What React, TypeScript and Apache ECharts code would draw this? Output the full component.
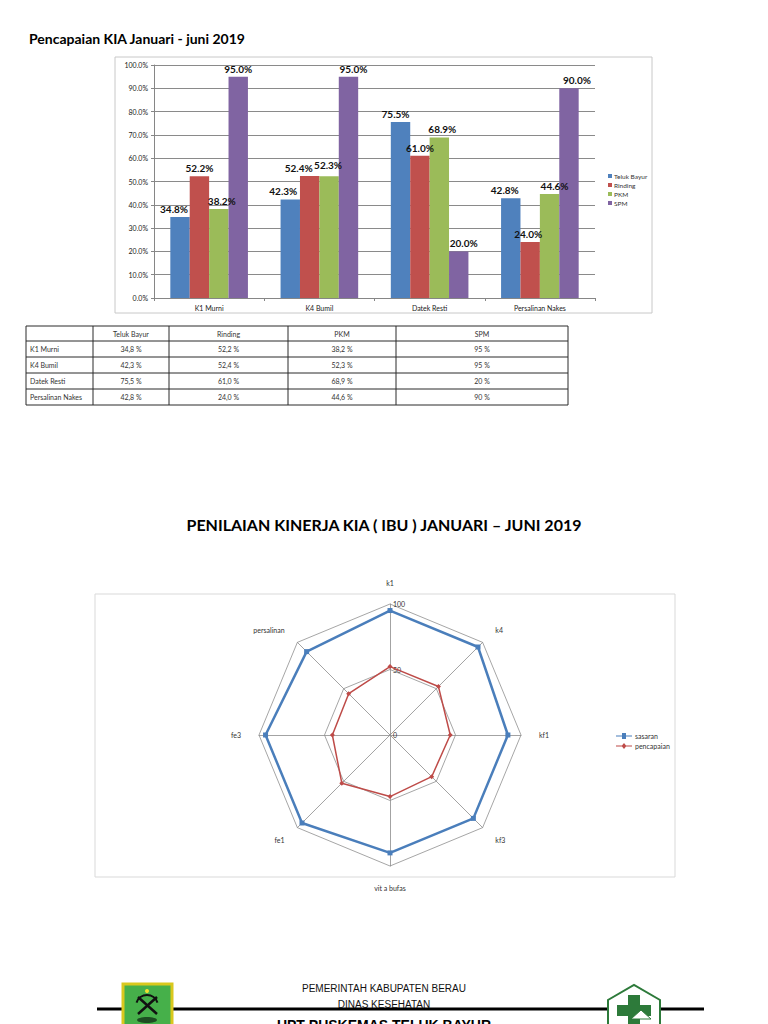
import React, { useEffect, useRef } from "react";
import * as echarts from "echarts";

// ---------- data ----------
const pageTitle = "Pencapaian KIA Januari - juni 2019";
const radarTitle = "PENILAIAN KINERJA KIA ( IBU ) JANUARI \u2013 JUNI 2019";

const categories = ["K1 Murni", "K4 Bumil", "Datek Resti", "Persalinan Nakes"];
const seriesNames = ["Teluk Bayur", "Rinding", "PKM", "SPM"];
const telukBayur = [34.8, 42.3, 75.5, 42.8];
const rinding = [52.2, 52.4, 61.0, 24.0];
const pkm = [38.2, 52.3, 68.9, 44.6];
const spm = [95, 95, 20, 90];

// radar axes in ECharts order (counter-clockwise from the top)
const radarAxes = ["k1", "persalinan", "fe3", "fe1", "vit a bufas", "kf3", "kf1", "k4"];
const radarNames = ["sasaran", "pencapaian"];
const sasaran = [95, 90, 95, 95, 90, 90, 90, 95];
const pencapaian = [52.2, 44.6, 44, 52, 47, 45, 46, 52.3];

const footerLines = ["PEMERINTAH KABUPATEN BERAU", "DINAS KESEHATAN", "UPT PUSKEMAS TELUK BAYUR"];

// ---------- styles ----------
const barColors = ["#4f81bd", "#c0504d", "#9bbb59", "#8064a2"];
const radarColors = ["#4a7ebb", "#be4b48"];
// horizontal nudges of the data labels (as placed in the reference)
const labelOffsets = [
  [[-6, 0], [-7, 0], [-5, 0], [-6, 0]],
  [[0, 0], [-11, 0], [0, 0], [-2, 0]],
  [[3, 0], [-1, -3], [3, 0], [5, 0]],
  [[0, 0], [5, 0], [5, 0], [8, 0]],
];
const F = "Lato, 'Open Sans', sans-serif";
const ARIAL = "'Liberation Sans', Arial, sans-serif";

const colX = [26, 93, 169, 288, 396, 568];
const rowY = [326, 341, 357, 373, 389, 405];

function fmtTable(v: number, col: number) {
  if (col === 3) return `${v} %`;
  return `${v.toFixed(1).replace(".", ",")} %`;
}

function buildTable(): any[] {
  const els: any[] = [];
  const seriesData = [telukBayur, rinding, pkm, spm];
  const lineStyle = { stroke: "#2b2b2b", lineWidth: 1 };
  rowY.forEach((y) =>
    els.push({ type: "line", silent: true, shape: { x1: colX[0], y1: y, x2: colX[colX.length - 1], y2: y }, style: lineStyle })
  );
  colX.forEach((x) =>
    els.push({ type: "line", silent: true, shape: { x1: x, y1: rowY[0], x2: x, y2: rowY[rowY.length - 1] }, style: lineStyle })
  );
  const ts = (text: string, x: number, y: number, align: string) => ({
    type: "text",
    silent: true,
    style: { text, x, y, fill: "#333", font: `7px ${F}`, textAlign: align, textVerticalAlign: "middle" },
  });
  seriesNames.forEach((n, c) => {
    els.push(ts(n, (colX[c + 1] + colX[c + 2]) / 2, (rowY[0] + rowY[1]) / 2, "center"));
  });
  categories.forEach((cat, r) => {
    const yc = (rowY[r + 1] + rowY[r + 2]) / 2;
    els.push(ts(cat, colX[0] + 4, yc, "left"));
    seriesData.forEach((arr, c) => {
      els.push(ts(fmtTable(arr[r], c), (colX[c + 1] + colX[c + 2]) / 2, yc, "center"));
    });
  });
  return els;
}

function buildFooter(): any[] {
  const green = "#2d7a3a";
  return [
    { type: "line", silent: true, shape: { x1: 97, y1: 1009, x2: 704, y2: 1009 }, style: { stroke: "#000", lineWidth: 3 } },
    { type: "text", silent: true, style: { text: footerLines[0], x: 384, y: 988, fill: "#111", font: `10px ${ARIAL}`, textAlign: "center", textVerticalAlign: "middle" } },
    { type: "text", silent: true, style: { text: footerLines[1], x: 384, y: 1004, fill: "#111", font: `10px ${ARIAL}`, textAlign: "center", textVerticalAlign: "middle" } },
    { type: "text", silent: true, style: { text: footerLines[2], x: 384, y: 1025, fill: "#000", font: `bold 14px ${ARIAL}`, textAlign: "center", textVerticalAlign: "middle" } },
    // left logo
    { type: "rect", silent: true, shape: { x: 123, y: 984, width: 49, height: 44 }, style: { fill: "#46b04a", stroke: "#d9c81e", lineWidth: 3 } },
    { type: "circle", silent: true, shape: { cx: 147, cy: 991, r: 2 }, style: { fill: "#f2e030" } },
    { type: "arc", silent: true, shape: { cx: 147, cy: 1006, r: 11, startAngle: Math.PI * 1.1, endAngle: Math.PI * 1.9 }, style: { stroke: "#111", lineWidth: 2, fill: "none" } },
    { type: "line", silent: true, shape: { x1: 138, y1: 997, x2: 157, y2: 1014 }, style: { stroke: "#111", lineWidth: 2.5 } },
    { type: "line", silent: true, shape: { x1: 157, y1: 997, x2: 138, y2: 1014 }, style: { stroke: "#111", lineWidth: 2.5 } },
    { type: "ellipse", silent: true, shape: { cx: 147, cy: 1020, rx: 10, ry: 3 }, style: { fill: "#1d4d22" } },
    // right logo
    { type: "polygon", silent: true, shape: { points: [[608, 1030], [608, 1000], [634, 985], [660, 1000], [660, 1030]] }, style: { fill: "#fff", stroke: green, lineWidth: 2 } },
    { type: "rect", silent: true, shape: { x: 628, y: 995, width: 12, height: 32 }, style: { fill: green } },
    { type: "rect", silent: true, shape: { x: 617, y: 1005, width: 34, height: 11 }, style: { fill: green } },
    { type: "polygon", silent: true, shape: { points: [[631, 1019], [641, 1010], [651, 1019]] }, style: { fill: "#fff", stroke: green, lineWidth: 1 } },
  ];
}

export default function App() {
  const ref = useRef<HTMLDivElement>(null);
  useEffect(() => {
    if (!ref.current) return;
    const chart = echarts.init(ref.current, undefined, { renderer: "svg" });
    const barData = [telukBayur, rinding, pkm, spm];
    const option: any = {
      animation: false,
      backgroundColor: "#ffffff",
      textStyle: { fontFamily: F },
      grid: { left: 154, top: 65, width: 441, height: 233 },
      xAxis: {
        type: "category",
        data: categories,
        axisLine: { lineStyle: { color: "#868686", width: 1 } },
        axisTick: { show: true, length: 3, lineStyle: { color: "#868686" } },
        axisLabel: { fontSize: 7, color: "#222", margin: 6, fontFamily: F },
      },
      yAxis: {
        type: "value",
        min: 0,
        max: 100,
        interval: 10,
        axisLine: { show: true, lineStyle: { color: "#868686", width: 1 } },
        axisTick: { show: true, length: 3, lineStyle: { color: "#868686" } },
        axisLabel: { fontSize: 7, color: "#222", margin: 6, fontFamily: F, formatter: (v: number) => `${v.toFixed(1)}%` },
        splitLine: { lineStyle: { color: "#8a8a8a", width: 1 } },
      },
      legend: [
        {
          data: seriesNames,
          orient: "vertical",
          left: 603,
          top: 167,
          icon: "rect",
          itemWidth: 4,
          itemHeight: 4,
          itemGap: 1,
          textStyle: { fontSize: 6.5, color: "#333", fontFamily: F, lineHeight: 8, padding: [0, 0, 0, -3] },
          selectedMode: false,
        },
        {
          data: [
            { name: radarNames[0], icon: "path://M0,4 L6,4 L6,1.5 L10,1.5 L10,4 L16,4 L16,5 L10,5 L10,7.5 L6,7.5 L6,5 L0,5 Z" },
            { name: radarNames[1], icon: "path://M0,4 L6,4 L8,1.5 L10,4 L16,4 L16,5 L10,5 L8,7.5 L6,5 L0,5 Z" },
          ],
          orient: "vertical",
          left: 611,
          top: 727,
          itemWidth: 18,
          itemHeight: 6,
          itemGap: 2,
          textStyle: { fontSize: 7, color: "#333", fontFamily: F, lineHeight: 8, padding: [0, 0, 0, -3] },
          selectedMode: false,
        },
      ],
      radar: {
        center: [390, 735],
        radius: 131,
        startAngle: 90,
        splitNumber: 2,
        shape: "polygon",
        nameGap: 18,
        axisName: { color: "#333", fontSize: 7, fontFamily: F },
        splitLine: { lineStyle: { color: "#a6a6a6", width: 1 } },
        splitArea: { show: false },
        axisLine: { lineStyle: { color: "#8c8c8c", width: 0.8 } },
        axisTick: { show: false },
        axisLabel: { show: false },
        indicator: radarAxes.map((n, i) =>
          i === 0
            ? { name: n, min: 0, max: 100, axisLabel: { show: true, fontSize: 7, color: "#333", margin: -3, align: "left", fontFamily: F } }
            : { name: n, min: 0, max: 100 }
        ),
      },
      series: [
        ...seriesNames.map((n, i) => ({
          type: "bar",
          name: n,
          data: barData[i].map((v, j) => ({ value: v, label: { offset: labelOffsets[i][j] } })),
          itemStyle: { color: barColors[i] },
          barGap: "0%",
          barCategoryGap: "29.6%",
          label: {
            show: true,
            position: "top",
            distance: 3,
            fontSize: 10,
            fontWeight: "bold",
            color: "#111",
            fontFamily: F,
            formatter: (p: any) => `${Number(p.value).toFixed(1)}%`,
          },
        })),
        {
          type: "radar",
          data: [
            {
              name: radarNames[0],
              value: sasaran,
              symbol: "rect",
              symbolSize: 5,
              lineStyle: { color: radarColors[0], width: 2.5 },
              itemStyle: { color: radarColors[0] },
            },
            {
              name: radarNames[1],
              value: pencapaian,
              symbol: "diamond",
              symbolSize: 5,
              lineStyle: { color: radarColors[1], width: 1.5 },
              itemStyle: { color: radarColors[1] },
            },
          ],
        },
      ],
      graphic: [
        { type: "rect", silent: true, z: -10, shape: { x: 115, y: 57, width: 537, height: 256 }, style: { fill: "none", stroke: "#c8c8c8", lineWidth: 1 } },
        { type: "rect", silent: true, z: -10, shape: { x: 95, y: 594, width: 580, height: 283 }, style: { fill: "none", stroke: "#d9d9d9", lineWidth: 1 } },
        { type: "text", silent: true, style: { text: pageTitle, x: 29, y: 38, fill: "#000", font: `bold 14px ${F}`, textAlign: "left", textVerticalAlign: "middle" } },
        { type: "text", silent: true, style: { text: radarTitle, x: 384, y: 524, fill: "#000", font: `bold 16px ${F}`, textAlign: "center", textVerticalAlign: "middle" } },
        ...buildTable(),
        ...buildFooter(),
      ],
    };
    chart.setOption(option);
    return () => chart.dispose();
  }, []);
  return <div ref={ref} style={{ position: "absolute", left: 0, top: 0, width: 768, height: 1024 }} />;
}
